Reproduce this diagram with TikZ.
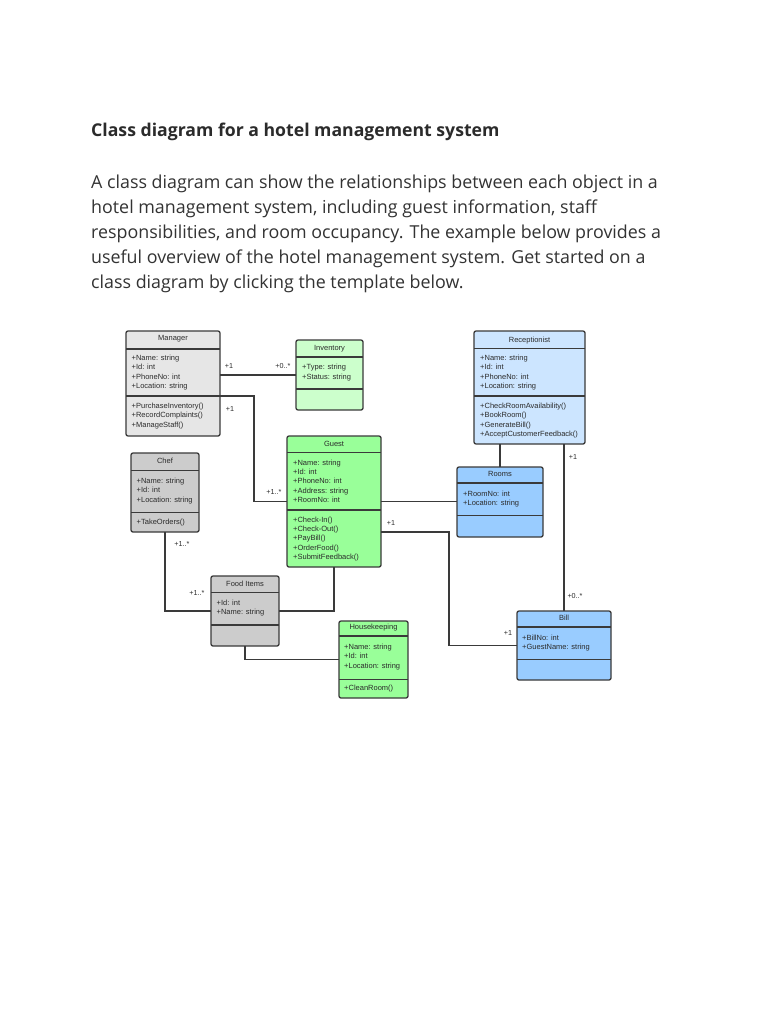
\documentclass[tikz,border=0pt]{standalone}
\usepackage{fontspec}
\setmainfont{Open Sans}
\newfontfamily\umlfont{Liberation Sans}
\usetikzlibrary{calc}
\definecolor{edge}{HTML}{3A3A3A}
\definecolor{ink}{HTML}{2B2B2B}
\definecolor{prose}{HTML}{333333}
\definecolor{paleGray}{HTML}{E6E6E6}
\definecolor{midGray}{HTML}{CCCCCC}
\definecolor{paleGreen}{HTML}{CCFFCC}
\definecolor{midGreen}{HTML}{99FF99}
\definecolor{paleBlue}{HTML}{CCE5FF}
\definecolor{midBlue}{HTML}{99CCFF}
\tikzset{
	classbox/.style={draw=edge, line width=1.3pt, rounded corners=2pt, anchor=north west, inner sep=0pt, outer sep=0pt},
	members/.style={anchor=north west, inner sep=0pt, align=left, text=ink, font=\umlfont\fontsize{7.5}{9.4}\selectfont},
	ctitle/.style={anchor=base, inner sep=0pt, text=ink, font=\umlfont\fontsize{7.5}{9}\selectfont},
	mult/.style={inner sep=0pt, text=ink, font=\umlfont\fontsize{7.2}{8}\selectfont},
	link/.style={draw=edge, line width=1.3pt},
}
\def\splitbox(#1)(#2:#3){\draw[link] ([yshift=-#2pt]#1.north west) -- ([yshift=-#2pt]#1.north east);
	\draw[link] ([yshift=-#3pt]#1.north west) -- ([yshift=-#3pt]#1.north east);}

\begin{document}
\begin{tikzpicture}[x=1pt, y=-1pt]
			%%%%% PAGE %%%%%
			\fill[white] (0,0) rectangle (768,1024);
			\useasboundingbox (0,0) rectangle (768,1024);
			
			\node[anchor=base west, inner sep=0pt, text=ink, font=\bfseries\fontsize{17.65}{22}\selectfont] (heading) at (91,137) {Class diagram for a hotel management system};
			\node[anchor=north west, inner sep=0pt, align=left, text=prose, font=\fontsize{17.85}{25}\selectfont] (intro) at (91,171) {\strut A class diagram can show the relationships between each object in a\\hotel management system, including guest information, staff\\responsibilities, and room occupancy. The example below provides a\\useful overview of the hotel management system. Get started on a\\class diagram by clicking the template below.};
			
			%%%%% CLASSES %%%%%
			\node[classbox, fill=paleGray, minimum width=94pt, minimum height=105pt] (mgr) at (126,331) {};
			\splitbox(mgr)(18:65)
			\node[ctitle] (mgrT) at ([yshift=-9.7pt]mgr.north) {Manager};
			\node[members] (mgrA) at ([xshift=5.5pt,yshift=-22.8pt]mgr.north west) {\strut+Name: string\\+Id: int\\+PhoneNo: int\\+Location: string};
			\node[members] (mgrM) at ([xshift=5.5pt,yshift=-70.8pt]mgr.north west) {\strut+PurchaseInventory()\\+RecordComplaints()\\+ManageStaff()};
			
			\node[classbox, fill=paleGreen, minimum width=67pt, minimum height=70pt] (inv) at (296,340) {};
			\splitbox(inv)(17:49)
			\node[ctitle] (invT) at ([yshift=-10.7pt]inv.north) {Inventory};
			\node[members] (invA) at ([xshift=6pt,yshift=-23.1pt]inv.north west) {\strut+Type: string\\+Status: string};
			
			\node[classbox, fill=paleBlue, minimum width=111pt, minimum height=113pt] (rec) at (474,331) {};
			\splitbox(rec)(17.3:65)
			\node[ctitle] (recT) at ([yshift=-11pt]rec.north) {Receptionist};
			\node[members] (recA) at ([xshift=6pt,yshift=-22.8pt]rec.north west) {\strut+Name: string\\+Id: int\\+PhoneNo: int\\+Location: string};
			\node[members] (recM) at ([xshift=6pt,yshift=-70.8pt]rec.north west) {\strut+CheckRoomAvailability()\\+BookRoom()\\+GenerateBill()\\+AcceptCustomerFeedback()};
			
			\node[classbox, fill=midGray, minimum width=68pt, minimum height=79pt] (chef) at (131,453) {};
			\splitbox(chef)(17.4:59.4)
			\node[ctitle] (chefT) at ([yshift=-10.4pt]chef.north) {Chef};
			\node[members] (chefA) at ([xshift=5.5pt,yshift=-23.8pt]chef.north west) {\strut+Name: string\\+Id: int\\+Location: string};
			\node[members] (chefM) at ([xshift=5.5pt,yshift=-64.5pt]chef.north west) {\strut+TakeOrders()};
			
			\node[classbox, fill=midGreen, minimum width=94pt, minimum height=131pt] (guest) at (287,436) {};
			\splitbox(guest)(16.7:74)
			\node[ctitle] (guestT) at ([yshift=-10.7pt]guest.north) {Guest};
			\node[members] (guestA) at ([xshift=6pt,yshift=-22.4pt]guest.north west) {\strut+Name: string\\+Id: int\\+PhoneNo: int\\+Address: string\\+RoomNo: int};
			\node[members] (guestM) at ([xshift=6pt,yshift=-79.4pt]guest.north west) {\strut+Check-In()\\+Check-Out()\\+PayBill()\\+OrderFood()\\+SubmitFeedback()};
			
			\node[classbox, fill=midBlue, minimum width=86pt, minimum height=70pt] (rooms) at (457,467) {};
			\splitbox(rooms)(16:48.7)
			\node[ctitle] (roomsT) at ([yshift=-9.7pt]rooms.north) {Rooms};
			\node[members] (roomsA) at ([xshift=6pt,yshift=-22.8pt]rooms.north west) {\strut+RoomNo: int\\+Location: string};
			
			\node[classbox, fill=midGray, minimum width=68pt, minimum height=70pt] (food) at (211,576) {};
			\splitbox(food)(16.7:49)
			\node[ctitle] (foodT) at ([yshift=-10pt]food.north) {Food Items};
			\node[members] (foodA) at ([xshift=5.5pt,yshift=-22.8pt]food.north west) {\strut+Id: int\\+Name: string};
			
			\node[classbox, fill=midGreen, minimum width=69pt, minimum height=77pt] (hk) at (339,621) {};
			\splitbox(hk)(15:58.3)
			\node[ctitle] (hkT) at ([yshift=-8.4pt]hk.north) {Housekeeping};
			\node[members] (hkA) at ([xshift=5pt,yshift=-21.8pt]hk.north west) {\strut+Name: string\\+Id: int\\+Location: string};
			\node[members] (hkM) at ([xshift=5pt,yshift=-63.1pt]hk.north west) {\strut+CleanRoom()};
			
			\node[classbox, fill=midBlue, minimum width=94pt, minimum height=69pt] (bill) at (517,611) {};
			\splitbox(bill)(16:48.3)
			\node[ctitle] (billT) at ([yshift=-9.3pt]bill.north) {Bill};
			\node[members] (billA) at ([xshift=5pt,yshift=-22.7pt]bill.north west) {\strut+BillNo: int\\+GuestName: string};
			
			%%%%% LINKS %%%%%
			\draw[link] (inv.west -| mgr.east) -- (inv.west);
			\draw[link] ([yshift=40pt]mgr.south east) -| ($(guest.west)+(-33,0)$) -- (guest.west);
			\draw[link] (guest.east) -- (rooms.west |- guest.east);
			\draw[link] ([yshift=-30.5pt]guest.east) -| ($(bill.west)+(-68,0)$) -- (bill.west);
			\draw[link] (rooms.north -| 500,0) -- (rec.south -| 500,0);
			\draw[link] (bill.north) -- (bill.north |- rec.south);
			\draw[link] (chef.south) |- (food.west);
			\draw[link] (guest.south) |- (food.east);
			\draw[link] (food.south) |- (hk.west);
			
			\node[mult] (m1) at (229,366) {+1};
			\node[mult] (m2) at (283,366) {+0..*};
			\node[mult] (m3) at (230,409) {+1};
			\node[mult] (m4) at (274,492) {+1..*};
			\node[mult] (m5) at (391,523) {+1};
			\node[mult] (m6) at (573,457) {+1};
			\node[mult] (m7) at (575,596) {+0..*};
			\node[mult] (m8) at (508,633) {+1};
			\node[mult] (m9) at (182,544) {+1..*};
			\node[mult] (m10) at (197,593) {+1..*};
			
			%%%%% END %%%%%
\end{tikzpicture}
\end{document}
